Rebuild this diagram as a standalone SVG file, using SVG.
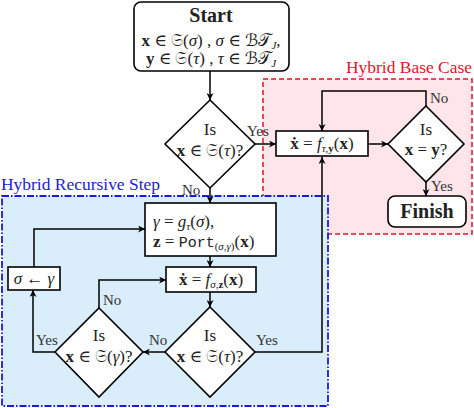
<svg xmlns="http://www.w3.org/2000/svg" width="474" height="408" viewBox="0 0 474 408">
<defs>
<marker id="ah" viewBox="0 0 10 10" refX="10" refY="5" markerWidth="7" markerHeight="7" orient="auto" markerUnits="userSpaceOnUse">
<path d="M0,0 L10,5 L0,10 L3,5 z" fill="#000"/>
</marker>
<style>
.t{font-family:"Liberation Serif","DejaVu Serif",serif;font-size:17px;fill:#222}
.m{font-family:"Liberation Serif","DejaVu Serif","DejaVu Sans",serif;font-size:17px;fill:#222}
.big{font-size:20px;font-weight:bold}
.lbl{font-family:"Liberation Serif","DejaVu Serif",serif;font-size:15px;fill:#333}
.reg{font-family:"Liberation Serif","DejaVu Serif",serif;font-size:17px}
.b{font-weight:bold}
.i{font-style:italic}
.mono{font-family:"Liberation Mono","DejaVu Sans Mono",monospace;font-size:15px}
.sub{font-size:11px}
.node{fill:#fff;stroke:#000;stroke-width:1.6}
.conn{fill:none;stroke:#000;stroke-width:1.5;marker-end:url(#ah)}
</style>
</defs>

<g id="region-base">
<rect x="263" y="79" width="209" height="155" fill="#fde5e9" stroke="#e4132d" stroke-width="1.5" stroke-dasharray="5 3"/>
<text class="reg" x="472" y="73" text-anchor="end" fill="#e0142c" textLength="126" lengthAdjust="spacingAndGlyphs">Hybrid Base Case</text>
</g>
<g id="region-recursive">
<rect x="2" y="196" width="326" height="210" fill="#d9edfb" stroke="#1a1ad8" stroke-width="1.8" stroke-dasharray="7 2 1.5 2"/>
<text class="reg" x="1" y="190" fill="#2222cc" textLength="159" lengthAdjust="spacingAndGlyphs">Hybrid Recursive Step</text>
</g>

<g id="connectors">
<path class="conn" d="M210,71 V100"/>
<path class="conn" d="M255,144 H276"/>
<path class="conn" d="M368,144 H388"/>
<path class="conn" d="M426,106 V91 H322 V131"/>
<path class="conn" d="M426,182 V196"/>
<path class="conn" d="M210,188 V203"/>
<path class="conn" d="M210,256 V267"/>
<path class="conn" d="M210,292 V307"/>
<path class="conn" d="M165,352 H143"/>
<path class="conn" d="M255,352 H322 V157"/>
<path class="conn" d="M99,308 V280 H166"/>
<path class="conn" d="M55,352 H33 V290"/>
<path class="conn" d="M34,267 V229 H145"/>
<text class="lbl" x="247" y="136">Yes</text>
<text class="lbl" x="430" y="103">No</text>
<text class="lbl" x="431" y="191">Yes</text>
<text class="lbl" x="182" y="195">No</text>
<text class="lbl" x="149" y="345">No</text>
<text class="lbl" x="256" y="345">Yes</text>
<text class="lbl" x="103" y="305">No</text>
<text class="lbl" x="36" y="345">Yes</text>
</g>

<g id="start">
<rect class="node" x="134" y="2" width="155" height="69" rx="7"/>
<text class="t big" x="211" y="22" text-anchor="middle">Start</text>
<text class="m" x="211" y="46" text-anchor="middle"><tspan class="b">x</tspan> ∈ 𝔖(<tspan class="i">σ</tspan>) , <tspan class="i">σ</tspan> ∈ ℬ𝒯<tspan class="i sub" dy="3">J</tspan><tspan dy="-3">,</tspan></text>
<text class="m" x="211" y="64" text-anchor="middle"><tspan class="b">y</tspan> ∈ 𝔖(<tspan class="i">τ</tspan>) , <tspan class="i">τ</tspan> ∈ ℬ𝒯<tspan class="i sub" dy="3">J</tspan></text>
</g>

<g id="dec-in-tau">
<polygon class="node" points="210,100 255,144 210,188 165,144"/>
<text class="t" x="210" y="135" text-anchor="middle">Is</text>
<text class="m" x="210" y="156" text-anchor="middle"><tspan class="b">x</tspan> ∈ 𝔖(<tspan class="i">τ</tspan>)?</text>
</g>

<g id="flow-tau">
<rect class="node" x="276" y="131" width="92" height="25"/>
<text class="m" x="322" y="149" text-anchor="middle"><tspan class="b">ẋ</tspan> = <tspan class="i">f</tspan><tspan class="sub" dy="3"><tspan class="i">τ</tspan>,<tspan class="b">y</tspan></tspan><tspan dy="-3">(</tspan><tspan class="b">x</tspan>)</text>
</g>

<g id="dec-equal">
<polygon class="node" points="426,106 464,144 426,182 388,144"/>
<text class="t" x="426" y="135" text-anchor="middle">Is</text>
<text class="m" x="426" y="155" text-anchor="middle"><tspan class="b">x</tspan> = <tspan class="b">y</tspan>?</text>
</g>

<g id="finish">
<rect class="node" x="388" y="196" width="78" height="31" rx="7"/>
<text class="t big" x="427" y="218" text-anchor="middle">Finish</text>
</g>

<g id="port">
<rect class="node" x="145" y="203" width="131" height="53"/>
<text class="m" x="153" y="227"><tspan class="i">γ</tspan> = <tspan class="i">g</tspan><tspan class="i sub" dy="3">τ</tspan><tspan dy="-3">(</tspan><tspan class="i">σ</tspan>),</text>
<text class="m" x="153" y="247"><tspan class="b">z</tspan> = <tspan class="mono">Port</tspan><tspan class="sub" dy="3">(<tspan class="i">σ</tspan>,<tspan class="i">γ</tspan>)</tspan><tspan dy="-3">(</tspan><tspan class="b">x</tspan>)</text>
</g>

<g id="flow-sigma">
<rect class="node" x="166" y="267" width="90" height="25"/>
<text class="m" x="211" y="285" text-anchor="middle"><tspan class="b">ẋ</tspan> = <tspan class="i">f</tspan><tspan class="sub" dy="3"><tspan class="i">σ</tspan>,<tspan class="b">z</tspan></tspan><tspan dy="-3">(</tspan><tspan class="b">x</tspan>)</text>
</g>

<g id="dec-in-tau-2">
<polygon class="node" points="210,307 255,352 210,397 165,352"/>
<text class="t" x="210" y="341" text-anchor="middle">Is</text>
<text class="m" x="210" y="362" text-anchor="middle"><tspan class="b">x</tspan> ∈ 𝔖(<tspan class="i">τ</tspan>)?</text>
</g>

<g id="dec-in-gamma">
<polygon class="node" points="99,308 143,352 99,397 55,352"/>
<text class="t" x="99" y="341" text-anchor="middle">Is</text>
<text class="m" x="99" y="362" text-anchor="middle"><tspan class="b">x</tspan> ∈ 𝔖(<tspan class="i">γ</tspan>)?</text>
</g>

<g id="update">
<rect class="node" x="8" y="267" width="52" height="23"/>
<text class="m" x="34" y="284" text-anchor="middle"><tspan class="i">σ</tspan> ← <tspan class="i">γ</tspan></text>
</g>
</svg>
